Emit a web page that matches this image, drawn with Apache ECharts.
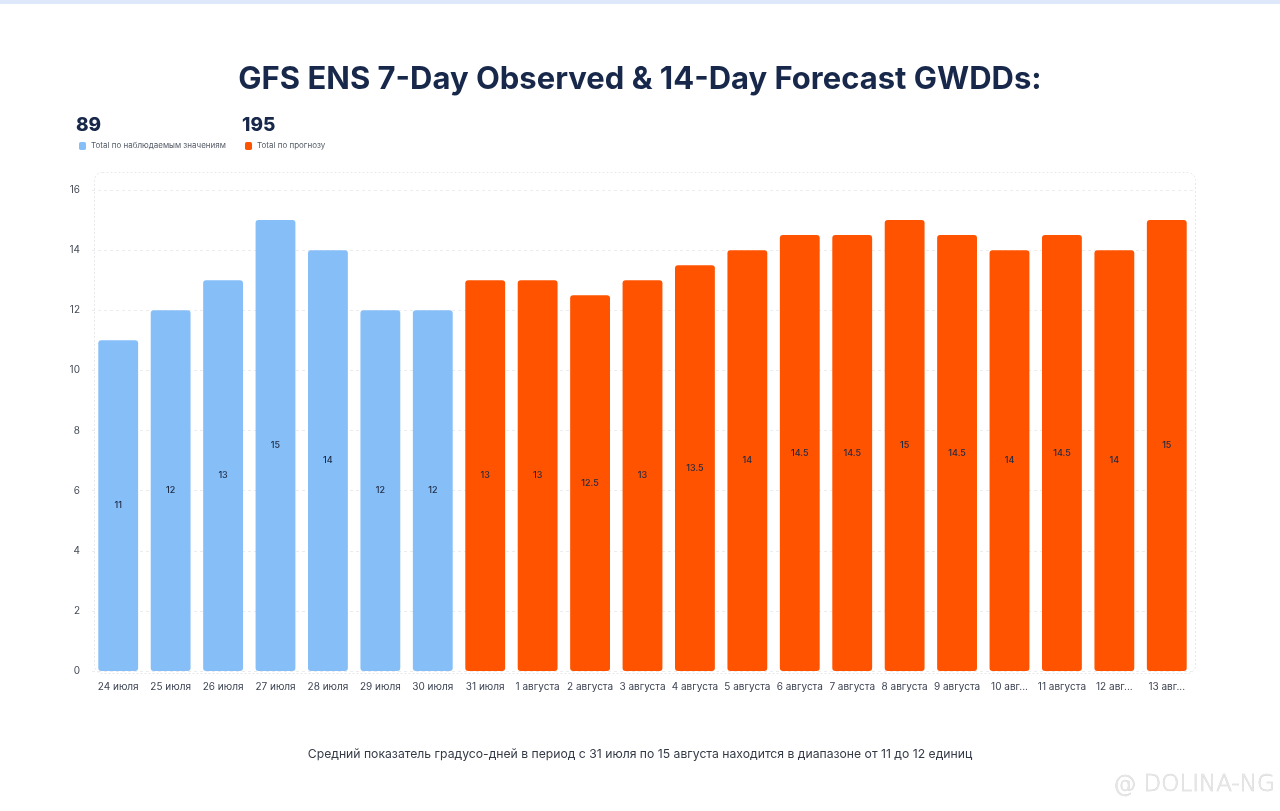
<!DOCTYPE html>
<html>
<head>
<meta charset="utf-8">
<script src="https://cdn.jsdelivr.net/npm/echarts@6/dist/echarts.min.js"></script>
<style>
html,body{margin:0;padding:0;background:#fff;}
#chart{width:1280px;height:811px;}
</style>
</head>
<body>
<div id="chart"></div>
<script>
const categories = ['24 июля','25 июля','26 июля','27 июля','28 июля','29 июля','30 июля','31 июля','1 августа','2 августа','3 августа','4 августа','5 августа','6 августа','7 августа','8 августа','9 августа','10 августа','11 августа','12 августа','13 августа'];
const observed = [11,12,13,15,14,12,12,null,null,null,null,null,null,null,null,null,null,null,null,null,null];
const forecast = [null,null,null,null,null,null,null,13,13,12.5,13,13.5,14,14.5,14.5,15,14.5,14,14.5,14,15];
const yTicks = [0,2,4,6,8,10,12,14,16];
const observedName = 'Total по наблюдаемым значениям';
const forecastName = 'Total по прогнозу';
const titleText = 'GFS ENS 7-Day Observed & 14-Day Forecast GWDDs:';
const footnote = 'Средний показатель градусо-дней в период с 31 июля по 15 августа находится в диапазоне от 11 до 12 единиц';
const watermark = '@ DOLINA-NG';

const sum = a => a.reduce((s, v) => s + (v == null ? 0 : v), 0);
const FONT = 'Inter, "Noto Sans", sans-serif';
const chart = echarts.init(document.getElementById('chart'));
chart.setOption({
  backgroundColor: '#ffffff',
  animation: false,
  textStyle: { fontFamily: FONT },
  title: {
    text: titleText, left: 'center', top: 59,
    textStyle: { fontFamily: FONT, fontSize: 31, fontWeight: 700, color: '#17284a' }
  },
  legend: [
    { data: [observedName], left: 74, top: 137, itemWidth: 7, itemHeight: 8, icon: 'roundRect',
      textStyle: { fontSize: 8, color: '#555b66', fontFamily: FONT } },
    { data: [forecastName], left: 240, top: 137, itemWidth: 7, itemHeight: 8, icon: 'roundRect',
      textStyle: { fontSize: 8, color: '#555b66', fontFamily: FONT } }
  ],
  graphic: [
    { type: 'rect', left: 0, top: 0, shape: { width: 1280, height: 4 }, style: { fill: '#dde8fa' }, z: -1 },
    { type: 'rect', left: 92, top: 170, shape: { width: 1101, height: 501, r: 8 },
      style: { fill: 'none', stroke: '#e6e8ec', lineWidth: 1, lineDash: [2, 2] }, z: -1 },
    { type: 'text', left: 76, top: 116, style: { text: String(sum(observed)), font: '800 19px ' + FONT, fill: '#17284a' } },
    { type: 'text', left: 242, top: 116, style: { text: String(sum(forecast)), font: '800 19px ' + FONT, fill: '#17284a' } },
    { type: 'text', left: 'center', top: 748, style: { text: footnote, font: '400 12.2px ' + FONT, fill: '#343a46' } },
    { type: 'text', left: 1113, top: 773, style: { text: watermark, font: '200 23px "DejaVu Sans", sans-serif', fill: '#e6e6e6', stroke: '#d0d0d0', lineWidth: 0.6 } }
  ],
  grid: { left: 92, right: 87, top: 190, bottom: 140, containLabel: false },
  xAxis: {
    type: 'category', data: categories,
    axisLine: { show: false }, axisTick: { show: false },
    axisLabel: { interval: 0, fontSize: 10, color: '#3c4352', margin: 11, width: 51, overflow: 'truncate', ellipsis: '...' }
  },
  yAxis: {
    type: 'value', min: 0, max: 16, interval: 2,
    axisLabel: { fontSize: 10, color: '#444a55', margin: 12 },
    axisLine: { show: false }, axisTick: { show: false },
    splitLine: { lineStyle: { color: '#ececef', type: [3, 3] } }
  },
  series: [
    { name: observedName, type: 'bar', stack: 'all', data: observed, barWidth: '76%',
      itemStyle: { color: '#86bff8', borderRadius: 3 },
      label: { show: true, position: 'inside', fontSize: 9, color: '#1e2a44', fontWeight: 500 } },
    { name: forecastName, type: 'bar', stack: 'all', data: forecast, barWidth: '76%',
      itemStyle: { color: '#ff5300', borderRadius: 3 },
      label: { show: true, position: 'inside', fontSize: 9, color: '#1e2a44', fontWeight: 500 } }
  ]
});
</script>
</body>
</html>
